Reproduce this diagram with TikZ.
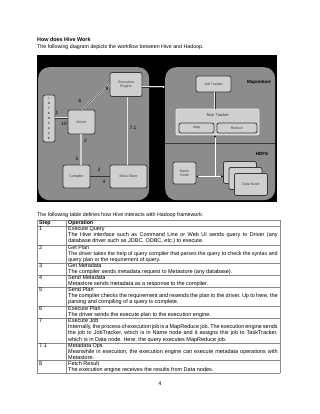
\documentclass[tikz,border=0pt]{standalone}
\usepackage{fontspec}
\setmainfont{Liberation Sans}
\usetikzlibrary{arrows.meta}
\definecolor{panelgray}{HTML}{8C8C8C}
\definecolor{boxgray}{HTML}{CFCFCF}
\definecolor{edgegray}{HTML}{3A3A3A}
\definecolor{linegray}{HTML}{E6E6E6}
\definecolor{tblgray}{HTML}{8A8A8A}
\frenchspacing
\hyphenpenalty=10000
\exhyphenpenalty=10000
\begin{document}
\begin{tikzpicture}[x=1pt,y=-1pt,
  panel/.style={fill=panelgray, draw=none, rounded corners=11pt, inner sep=0pt, anchor=north west},
  comp/.style={fill=boxgray, draw=edgegray, line width=0.8pt, rounded corners=2pt, inner sep=0pt, align=center, text=black!75, font=\fontsize{3.6}{4.2}\selectfont},
  num/.style={inner sep=0pt, font=\fontsize{4.8}{5}\selectfont, text=black},
  dbl/.style={draw=linegray, double=black!80, double distance=0.45pt, line width=0.45pt},
  txt/.style={inner sep=0pt, font=\fontsize{5.3}{6}\selectfont},
  cell/.style={inner sep=0pt, anchor=north west, font=\fontsize{5.5}{6.1}\selectfont, text width=209.5pt, align=justify},
  stepcell/.style={inner sep=0pt, anchor=north west, font=\fontsize{5.5}{6.1}\selectfont},
  tline/.style={draw=tblgray, line width=0.6pt}
]
\fill[white] (0,0) rectangle (320,414);
\useasboundingbox (0,0) rectangle (320,414);

% headings
\node[txt, anchor=base west, font=\fontsize{5.4}{6}\selectfont\bfseries] (h1) at (37,42) {How does Hive Work};
\node[txt, anchor=base west] (h2) at (37,49) {The following diagram depicts the workflow between Hive and Hadoop.};

% diagram background
\node[fill=black, inner sep=0pt, minimum width=240pt, minimum height=147pt, anchor=north west] (bg) at (37,55) {};
\node[panel, minimum width=111pt, minimum height=133pt] (hive) at (38,67) {};
\node[panel, minimum width=110pt, minimum height=133pt] (mr) at (165,67) {};
\draw[edgegray, line width=0.8pt] (mr.west |- 0,143) -- (mr.east |- 0,143);

% labels of right panel
\node[inner sep=0pt, font=\fontsize{4.5}{5}\selectfont\bfseries] (mrl) at (259,82) {Mapreduce};
\node[inner sep=0pt, font=\fontsize{4.5}{5}\selectfont\bfseries] (hdfsl) at (262,154) {HDFS};

% hive side
\node[comp, minimum width=32pt, minimum height=24pt] (exe) at (126,84.5) {Execution\\Engine};
\node[comp, minimum width=12pt, minimum height=47pt, font=\fontsize{3}{5}\selectfont\bfseries] (iface) at (49,118.5) {I\\N\\T\\E\\R\\F\\A\\C\\E};
\node[comp, minimum width=27pt, minimum height=24pt] (drv) at (81.5,122) {Driver};
\node[comp, minimum width=27pt, minimum height=23pt] (cmp) at (76.5,176.5) {Compiler};
\node[comp, minimum width=37pt, minimum height=23pt] (ms) at (128.5,176.5) {Meta Store};

% mapreduce side
\node[comp, minimum width=35pt, minimum height=16pt] (jt) at (213.5,84) {Job Tracker};
\node[comp, draw=linegray, minimum width=83pt, minimum height=26pt] (tt) at (217.5,122) {};
\node[inner sep=0pt, font=\fontsize{4}{5}\selectfont, text=black!80] (ttl) at (217.5,115.5) {Task Tracker};
\node[comp, minimum width=35pt, minimum height=10pt] (map) at (196.5,128) {Map};
\node[comp, minimum width=40pt, minimum height=10pt] (red) at (237,128) {Reduce};

% hdfs side
\node[comp, minimum width=23pt, minimum height=22pt] (nn) at (184.5,173) {Name\\Node};
\node[comp, minimum width=33pt, minimum height=22pt, anchor=north west] (dn1) at (223,161) {};
\node[comp, minimum width=33pt, minimum height=22pt, anchor=north west] (dn2) at (228.5,167) {};
\node[comp, minimum width=33pt, minimum height=22pt, anchor=north west] (dn3) at (234,173) {Data Node};

% connectors
\draw[dbl] (iface.east |- 0,118) -- (drv.west |- 0,118);
\draw[dbl] (drv.north) -- (exe.west);
\draw[dbl, -{Latex[length=2.2pt,width=2.6pt]}] (exe.east |- 0,87) -- (mr.west |- 0,87);
\draw[draw=linegray, line width=0.9pt] (exe.south -| 127,0) -- (ms.north -| 127,0);
\draw[draw=boxgray, line width=2pt] (drv.south -| 81,0) -- (cmp.north -| 81,0);
\draw[dbl] (cmp.east) -- (ms.west);
\draw[dbl] (jt.south -| 215,0) -- (tt.north -| 215,0);
\coordinate (hub) at (215,176.5);
\draw[draw=white, line width=0.6pt, {Stealth[black,length=2.2pt,width=2.2pt]}-{Stealth[black,length=2.2pt,width=2.2pt]}] (nn.east |- hub) -- (dn1.west |- hub);
\draw[draw=white, line width=0.6pt, -{Stealth[black,length=2.2pt,width=2.2pt]}] (hub) -- (hub |- tt.south);

% step numbers
\node[num] (n6) at (80,101) {6};
\node[num] (n9) at (107,89) {9};
\node[num] (n1) at (57,113) {1};
\node[num] (n10) at (64,123.5) {10};
\node[num] (n2) at (85.5,141) {2};
\node[num] (n5) at (77,159) {5};
\node[num] (n71) at (133,128) {7.1};
\node[num] (n3) at (99,169.5) {3};
\node[num] (n4) at (104,182) {4};

% table intro
\node[txt, anchor=base west] (intro) at (37,216) {The following table defines how Hive interacts with Hadoop framework:};

% table lines
\foreach \yy in {220,226,245,263,275,287,306,318,343,360.5,373}
  \draw[tline] (37,\yy) -- (280,\yy);
\draw[tline] (37,220) -- (37,373);
\draw[tline] (66,220) -- (66,373);
\draw[tline] (280,220) -- (280,373);

% header
\node[stepcell, font=\fontsize{5.3}{6.1}\selectfont\bfseries] (hs) at (39,220.6) {Step};
\node[stepcell, font=\fontsize{5.3}{6.1}\selectfont\bfseries] (ho) at (68,220.6) {Operation};

% rows
\node[stepcell] (s1) at (39,226.6) {1};
\node[cell] (o1) at (68,226.6) {Execute Query\\The Hive interface such as Command Line or Web UI sends query to Driver (any database driver such as JDBC, ODBC, etc.) to execute.};
\node[stepcell] (s2) at (39,245.6) {2};
\node[cell, font=\fontsize{5.35}{6.1}\selectfont] (o2) at (68,245.6) {Get Plan\\The driver takes the help of query compiler that parses the query to check the syntax and query plan or the requirement of query.};
\node[stepcell] (s3) at (39,263.6) {3};
\node[cell] (o3) at (68,263.6) {Get Metadata\\The compiler sends metadata request to Metastore (any database).};
\node[stepcell] (s4) at (39,275.6) {4};
\node[cell] (o4) at (68,275.6) {Send Metadata\\Metastore sends metadata as a response to the compiler.};
\node[stepcell] (s5) at (39,287.6) {5};
\node[cell] (o5) at (68,287.6) {Send Plan\\The compiler checks the requirement and resends the plan to the driver. Up to here, the parsing and compiling of a query is complete.};
\node[stepcell] (s6) at (39,306.6) {6};
\node[cell] (o6) at (68,306.6) {Execute Plan\\The driver sends the execute plan to the execution engine.};
\node[stepcell] (s7) at (39,318.6) {7};
\node[cell] (o7) at (68,318.6) {Execute Job\\Internally, the process of execution job is a MapReduce job. The execution engine sends the job to JobTracker, which is in Name node and it assigns this job to TaskTracker, which is in Data node. Here, the query executes MapReduce job.};
\node[stepcell] (s71) at (39,343.6) {7.1};
\node[cell] (o71) at (68,343.6) {Metadata Ops\\Meanwhile in execution, the execution engine can execute metadata operations with Metastore.};
\node[stepcell] (s8) at (39,361.1) {8};
\node[cell] (o8) at (68,361.1) {Fetch Result\\The execution engine receives the results from Data nodes.};

% page number
\node[txt, font=\fontsize{5.5}{6}\selectfont] (pg) at (160,384) {4};
\end{tikzpicture}
\end{document}
